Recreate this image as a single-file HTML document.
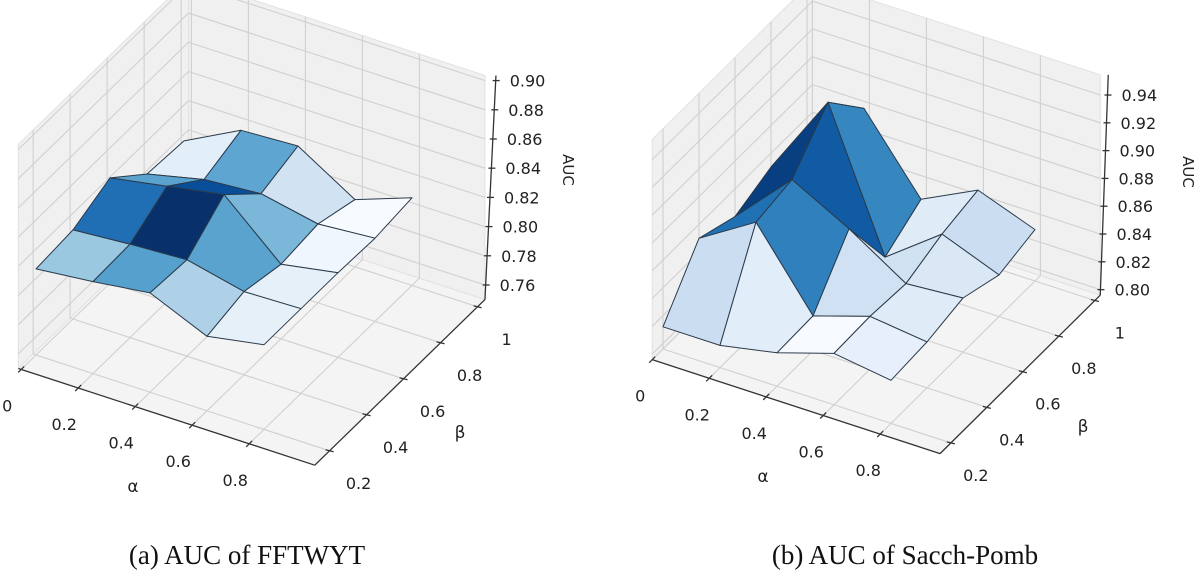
<!DOCTYPE html>
<html><head><meta charset="utf-8"><style>
body{margin:0;background:#fff;}
svg{display:block;}
text{font-family:"DejaVu Sans","Liberation Sans",sans-serif;fill:#222;}
.cap{font-family:"Liberation Serif",serif;font-size:27px;fill:#111;}
</style></head><body>
<svg id="fig" width="1200" height="582" viewBox="0 0 1200 582" xmlns="http://www.w3.org/2000/svg">
<g id="chartA"></g>
<g id="chartB"></g>
<text class="cap" x="247" y="564" text-anchor="middle">(a)  AUC of FFTWYT</text>
<text class="cap" x="905" y="564" text-anchor="middle">(b)  AUC of Sacch-Pomb</text>
</svg>
<script>
// shared axis categories
const alphaVals = [0, 0.2, 0.4, 0.6, 0.8];
const betaVals = [0.2, 0.4, 0.6, 0.8, 1.0];
const alphaTickLabels = ["0", "0.2", "0.4", "0.6", "0.8"];
const betaTickLabels = ["0.2", "0.4", "0.6", "0.8", "1"];
// chart (a) AUC values, rows = beta, cols = alpha
const aucA_b02 = [0.809, 0.813, 0.818, 0.801, 0.808];
const aucA_b04 = [0.811, 0.814, 0.816, 0.807, 0.808];
const aucA_b06 = [0.822, 0.829, 0.836, 0.801, 0.808];
const aucA_b08 = [0.800, 0.809, 0.812, 0.804, 0.807];
const aucA_b10 = [0.798, 0.818, 0.820, 0.796, 0.810];
const zTicksA = [0.76, 0.78, 0.80, 0.82, 0.84, 0.86, 0.88, 0.90];
const zTickLabelsA = ["0.76", "0.78", "0.80", "0.82", "0.84", "0.86", "0.88", "0.90"];
// chart (b)
const aucB_b02 = [0.812, 0.812, 0.820, 0.833, 0.827];
const aucB_b04 = [0.850, 0.875, 0.821, 0.834, 0.829];
const aucB_b06 = [0.840, 0.880, 0.858, 0.832, 0.835];
const aucB_b08 = [0.850, 0.910, 0.812, 0.842, 0.826];
const aucB_b10 = [0.850, 0.880, 0.828, 0.848, 0.833];
const zTicksB = [0.80, 0.82, 0.84, 0.86, 0.88, 0.90, 0.92, 0.94];
const zTickLabelsB = ["0.80", "0.82", "0.84", "0.86", "0.88", "0.90", "0.92", "0.94"];

const NS = "http://www.w3.org/2000/svg";
function mk(parent, tag, attrs){const e=document.createElementNS(NS,tag);for(const k in attrs)e.setAttribute(k,attrs[k]);parent.appendChild(e);return e;}
const blues=[[247,251,255],[222,235,247],[198,219,239],[158,202,225],[107,174,214],[66,146,198],[33,113,181],[8,81,156],[8,48,107]];
function cmap(t){t=Math.max(0,Math.min(1,t));const p=t*8,i=Math.min(7,Math.floor(p)),f=p-i;const a=blues[i],b=blues[i+1];
return "rgb("+a.map((v,j)=>Math.round(v+(b[j]-v)*f)).join(",")+")";}

function drawChart(g, cfg, Z, zTicks, zLabels){
  const P=(a,b,z)=>[cfg.O[0]+a*cfg.ua[0]+(b-0.2)*cfg.ub[0], cfg.O[1]+a*cfg.ua[1]+(b-0.2)*cfg.ub[1]-(z-cfg.zmin)*cfg.k];
  const pts=arr=>arr.map(p=>p[0].toFixed(1)+","+p[1].toFixed(1)).join(" ");
  const {amin,amax,bmin,bmax,zmin,zmax}=cfg;
  const paneFill="#f0f0f0", paneEdge="#e2e2e2", gridC="#d0d0d0";
  let e=mk(g,"polygon",{points:pts([P(amin,bmin,zmin),P(amin,bmax,zmin),P(amin,bmax,zmax),P(amin,bmin,zmax)]),fill:paneFill,stroke:paneEdge});
  
  
  e=mk(g,"polygon",{points:pts([P(amin,bmax,zmin),P(amax,bmax,zmin),P(amax,bmax,zmax),P(amin,bmax,zmax)]),fill:paneFill,stroke:paneEdge});
  
  
  e=mk(g,"polygon",{points:pts([P(amin,bmin,zmin),P(amax,bmin,zmin),P(amax,bmax,zmin),P(amin,bmax,zmin)]),fill:"#f4f4f4",stroke:paneEdge});
  
  
  const gl=(p,q,name)=>{const l=mk(g,"line",{x1:p[0],y1:p[1],x2:q[0],y2:q[1],stroke:gridC,"stroke-width":1.1});
    
    };
  zTicks.forEach(z=>{gl(P(amin,bmin,z),P(amin,bmax,z),'grid-z');gl(P(amin,bmax,z),P(amax,bmax,z),'grid-z');});
  alphaVals.forEach(a=>{gl(P(a,bmax,zmin),P(a,bmax,zmax),'grid-alpha');gl(P(a,bmin,zmin),P(a,bmax,zmin),'grid-alpha');});
  betaVals.forEach(b=>{gl(P(amin,b,zmin),P(amin,b,zmax),'grid-beta');gl(P(amin,b,zmin),P(amax,b,zmin),'grid-beta');});
  const ax=(p,q,name)=>{const l=mk(g,"line",{x1:p[0],y1:p[1],x2:q[0],y2:q[1],stroke:"#333","stroke-width":1.3});
    
    };
  ax(P(amin,bmin,zmin),P(amax,bmin,zmin),'alpha-axis');
  ax(P(amax,bmin,zmin),P(amax,bmax,zmin),'beta-axis');
  const zb=P(amax,bmax,zmin), zt=P(amax,bmax,zmax);
  const zx=z=>zb[0]+(z-zmin)/(zmax-zmin)*cfg.zslant;
  ax([zb[0],zb[1]],[zb[0]+cfg.zslant,zt[1]],'z-axis');
  alphaVals.forEach((a,i)=>{const p=P(a,bmin,zmin);
    ax([p[0]-3,p[1]+3],[p[0]+3,p[1]-3],'alpha-tick');
    const t=mk(g,"text",{x:p[0]+cfg.aLab[0],y:p[1]+cfg.aLab[1],"font-size":16,"text-anchor":"middle"});t.textContent=alphaTickLabels[i];
    
    });
  betaVals.forEach((b,i)=>{const p=P(amax,b,zmin);
    ax([p[0]-4,p[1]-1],[p[0]+4,p[1]+1],'beta-tick');
    const t=mk(g,"text",{x:p[0]+cfg.bLab[0],y:p[1]+cfg.bLab[1],"font-size":16,"text-anchor":"middle"});t.textContent=betaTickLabels[i];
    
    });
  zTicks.forEach((z,i)=>{const y=P(amax,bmax,z)[1],x=zx(z);
    ax([x-3,y],[x+4,y],'z-tick');
    const t=mk(g,"text",{x:x+14,y:y+6,"font-size":16});t.textContent=zLabels[i];
    
    });
  let t=mk(g,"text",{x:cfg.alphaLab[0],y:cfg.alphaLab[1],"font-size":17,"text-anchor":"middle"});t.textContent="α";
  
  
  t=mk(g,"text",{x:cfg.betaLab[0],y:cfg.betaLab[1],"font-size":17,"text-anchor":"middle"});t.textContent="β";
  
  
  t=mk(g,"text",{x:cfg.zLab[0],y:cfg.zLab[1],"font-size":15,"text-anchor":"middle",transform:"rotate(90 "+cfg.zLab[0]+" "+cfg.zLab[1]+")"});t.textContent="AUC";
  
  
  const quads=[];
  for(let j=0;j<betaVals.length-1;j++)for(let i=0;i<alphaVals.length-1;i++){
    const c=[[i,j],[i+1,j],[i+1,j+1],[i,j+1]];
    const avg=c.reduce((s,[ii,jj])=>s+Z[jj][ii],0)/4;
    const ac=(alphaVals[i]+alphaVals[i+1])/2, bc=(betaVals[j]+betaVals[j+1])/2;
    quads.push({c,avg,depth:0.5*ac-0.866*bc});
  }
  const mn=Math.min(...quads.map(q=>q.avg)), mx=Math.max(...quads.map(q=>q.avg));
  quads.sort((p,q)=>p.depth-q.depth);
  quads.forEach(q=>{const poly=mk(g,"polygon",{points:pts(q.c.map(([ii,jj])=>P(alphaVals[ii],betaVals[jj],Z[jj][ii]))),
    fill:cmap((q.avg-mn)/(mx-mn)),stroke:"#2b3a4a","stroke-width":1,"stroke-linejoin":"round"});
    
    });
}
drawChart(document.getElementById("chartA"),
  {O:[36,355],ua:[285,93],ub:[185,-180],k:1460,zmin:0.75,zmax:0.9035,amin:-0.01,amax:1.03,bmin:0.12,bmax:1.04,zslant:11,
   aLab:[-14,42],bLab:[29,38],alphaLab:[133,492],betaLab:[460,438],zLab:[563,170]},
  [aucA_b02,aucA_b04,aucA_b06,aucA_b08,aucA_b10], zTicksA, zTickLabelsA);
drawChart(document.getElementById("chartB"),
  {O:[663,349],ua:[285,93],ub:[180,-178],k:1390,zmin:0.796,zmax:0.9545,amin:0,amax:1.01,bmin:0.14,bmax:1.03,zslant:8,
   aLab:[-12,42],bLab:[25,38],alphaLab:[763,482],betaLab:[1083,432],zLab:[1183,172]},
  [aucB_b02,aucB_b04,aucB_b06,aucB_b08,aucB_b10], zTicksB, zTickLabelsB);
</script>
</body></html>
